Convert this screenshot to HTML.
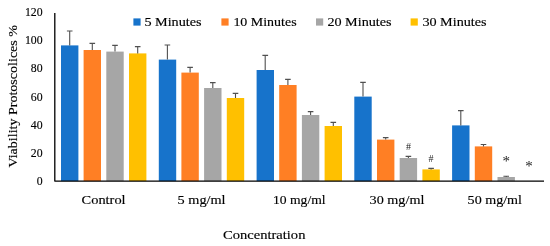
<!DOCTYPE html>
<html><head><meta charset="utf-8"><title>Chart</title>
<style>
html,body{margin:0;padding:0;background:#fff;}
svg{display:block;}
text{font-family:"Liberation Serif","DejaVu Serif",serif;fill:#000;stroke:#000;stroke-width:0.15px;}
</style></head><body>
<svg width="550" height="246" viewBox="0 0 550 246">
<rect width="550" height="246" fill="#fff"/>

<rect x="61.0" y="45.4" width="17.4" height="135.7" fill="#1773CB"/>
<path d="M69.7 45.4V31.0M66.9 31.0H72.5" stroke="#505050" stroke-width="1.1" fill="none"/>
<rect x="83.6" y="50.0" width="17.4" height="131.1" fill="#FF7F24"/>
<path d="M92.3 50.0V43.4M89.5 43.4H95.1" stroke="#505050" stroke-width="1.1" fill="none"/>
<rect x="106.3" y="51.6" width="17.4" height="129.5" fill="#A6A6A6"/>
<path d="M115.0 51.6V45.4M112.2 45.4H117.8" stroke="#505050" stroke-width="1.1" fill="none"/>
<rect x="129.0" y="53.4" width="17.4" height="127.7" fill="#FFC000"/>
<path d="M137.7 53.4V46.6M134.9 46.6H140.5" stroke="#505050" stroke-width="1.1" fill="none"/>
<rect x="158.8" y="59.6" width="17.4" height="121.5" fill="#1773CB"/>
<path d="M167.4 59.6V45.0M164.6 45.0H170.2" stroke="#505050" stroke-width="1.1" fill="none"/>
<rect x="181.4" y="72.6" width="17.4" height="108.5" fill="#FF7F24"/>
<path d="M190.1 72.6V67.4M187.3 67.4H192.9" stroke="#505050" stroke-width="1.1" fill="none"/>
<rect x="204.1" y="88.0" width="17.4" height="93.1" fill="#A6A6A6"/>
<path d="M212.8 88.0V82.6M210.0 82.6H215.6" stroke="#505050" stroke-width="1.1" fill="none"/>
<rect x="226.8" y="98.0" width="17.4" height="83.1" fill="#FFC000"/>
<path d="M235.5 98.0V93.4M232.7 93.4H238.3" stroke="#505050" stroke-width="1.1" fill="none"/>
<rect x="256.6" y="70.0" width="17.4" height="111.1" fill="#1773CB"/>
<path d="M265.2 70.0V55.4M262.4 55.4H268.1" stroke="#505050" stroke-width="1.1" fill="none"/>
<rect x="279.2" y="85.0" width="17.4" height="96.1" fill="#FF7F24"/>
<path d="M287.9 85.0V79.4M285.1 79.4H290.7" stroke="#505050" stroke-width="1.1" fill="none"/>
<rect x="301.9" y="115.0" width="17.4" height="66.1" fill="#A6A6A6"/>
<path d="M310.6 115.0V111.6M307.8 111.6H313.4" stroke="#505050" stroke-width="1.1" fill="none"/>
<rect x="324.6" y="126.0" width="17.4" height="55.1" fill="#FFC000"/>
<path d="M333.3 126.0V122.4M330.5 122.4H336.1" stroke="#505050" stroke-width="1.1" fill="none"/>
<rect x="354.3" y="96.6" width="17.4" height="84.5" fill="#1773CB"/>
<path d="M363.0 96.6V82.4M360.2 82.4H365.8" stroke="#505050" stroke-width="1.1" fill="none"/>
<rect x="377.0" y="139.6" width="17.4" height="41.5" fill="#FF7F24"/>
<path d="M385.7 139.6V137.6M382.9 137.6H388.5" stroke="#505050" stroke-width="1.1" fill="none"/>
<rect x="399.7" y="158.0" width="17.4" height="23.1" fill="#A6A6A6"/>
<path d="M408.4 158.0V156.4M405.6 156.4H411.2" stroke="#505050" stroke-width="1.1" fill="none"/>
<rect x="422.4" y="169.4" width="17.4" height="11.7" fill="#FFC000"/>
<path d="M431.1 169.4V168.4M428.3 168.4H433.9" stroke="#505050" stroke-width="1.1" fill="none"/>
<rect x="452.1" y="125.4" width="17.4" height="55.7" fill="#1773CB"/>
<path d="M460.8 125.4V110.6M458.0 110.6H463.6" stroke="#505050" stroke-width="1.1" fill="none"/>
<rect x="474.8" y="146.4" width="17.4" height="34.7" fill="#FF7F24"/>
<path d="M483.5 146.4V144.5M480.7 144.5H486.3" stroke="#505050" stroke-width="1.1" fill="none"/>
<rect x="497.5" y="177.0" width="17.4" height="4.1" fill="#A6A6A6"/>
<path d="M506.2 177.0V176.2M503.4 176.2H509.0" stroke="#505050" stroke-width="1.1" fill="none"/>
<path d="M54.8 12.9V181.1H544" stroke="#000" stroke-width="1.3" fill="none" stroke-linejoin="round" stroke-linecap="butt"/>
<text x="42.6" y="184.9" font-size="12.8" text-anchor="end" textLength="5.9" lengthAdjust="spacingAndGlyphs">0</text>
<text x="42.6" y="156.8" font-size="12.8" text-anchor="end" textLength="11.8" lengthAdjust="spacingAndGlyphs">20</text>
<text x="42.6" y="128.7" font-size="12.8" text-anchor="end" textLength="11.8" lengthAdjust="spacingAndGlyphs">40</text>
<text x="42.6" y="100.5" font-size="12.8" text-anchor="end" textLength="11.8" lengthAdjust="spacingAndGlyphs">60</text>
<text x="42.6" y="72.4" font-size="12.8" text-anchor="end" textLength="11.8" lengthAdjust="spacingAndGlyphs">80</text>
<text x="42.6" y="44.3" font-size="12.8" text-anchor="end" textLength="17.7" lengthAdjust="spacingAndGlyphs">100</text>
<text x="42.6" y="16.2" font-size="12.8" text-anchor="end" textLength="17.7" lengthAdjust="spacingAndGlyphs">120</text>
<text x="103.6" y="204.4" font-size="13.3" text-anchor="middle" textLength="44" lengthAdjust="spacingAndGlyphs">Control</text>
<text x="201.6" y="204.4" font-size="13.3" text-anchor="middle" textLength="48" lengthAdjust="spacingAndGlyphs">5 mg/ml</text>
<text x="299.3" y="204.4" font-size="13.3" text-anchor="middle" textLength="52.6" lengthAdjust="spacingAndGlyphs">10 mg/ml</text>
<text x="397" y="204.4" font-size="13.3" text-anchor="middle" textLength="54.8" lengthAdjust="spacingAndGlyphs">30 mg/ml</text>
<text x="494.8" y="204.4" font-size="13.3" text-anchor="middle" textLength="54.4" lengthAdjust="spacingAndGlyphs">50 mg/ml</text>
<text x="264.2" y="239" font-size="13.3" text-anchor="middle" textLength="82.4" lengthAdjust="spacingAndGlyphs">Concentration</text>
<text transform="translate(16.6 96.3) rotate(-90)" font-size="13.3" text-anchor="middle" textLength="142.6" lengthAdjust="spacingAndGlyphs">Viability Protoscolices %</text>
<rect x="133.4" y="18.4" width="7.2" height="7.2" fill="#1773CB"/>
<text x="144.4" y="26" font-size="13.3" textLength="57.2" lengthAdjust="spacingAndGlyphs">5 Minutes</text>
<rect x="221.4" y="18.4" width="7.2" height="7.2" fill="#FF7F24"/>
<text x="233.4" y="26" font-size="13.3" textLength="63.2" lengthAdjust="spacingAndGlyphs">10 Minutes</text>
<rect x="316.0" y="18.4" width="7.2" height="7.2" fill="#A6A6A6"/>
<text x="327.4" y="26" font-size="13.3" textLength="64.2" lengthAdjust="spacingAndGlyphs">20 Minutes</text>
<rect x="410.6" y="18.4" width="7.2" height="7.2" fill="#FFC000"/>
<text x="422.4" y="26" font-size="13.3" textLength="64.2" lengthAdjust="spacingAndGlyphs">30 Minutes</text>
<text x="408.4" y="150.0" font-size="10" text-anchor="middle" style="stroke:none;fill:#222">#</text>
<text x="431" y="161.5" font-size="10" text-anchor="middle" style="stroke:none;fill:#222">#</text>
<text x="506.3" y="165.8" font-size="15" text-anchor="middle" style="stroke:none;fill:#222">*</text>
<text x="529" y="170.6" font-size="15" text-anchor="middle" style="stroke:none;fill:#222">*</text>
</svg></body></html>
